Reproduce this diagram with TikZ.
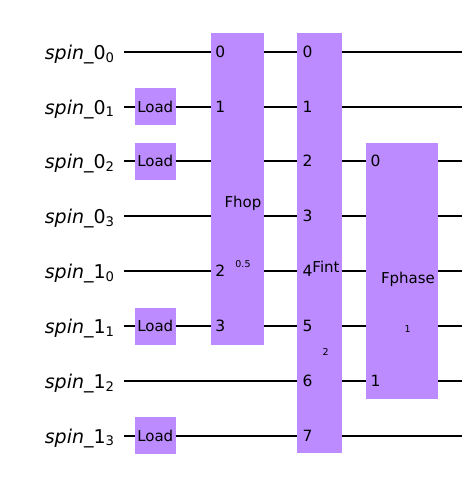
\documentclass[tikz,border=0pt]{standalone}
\usepackage{fontspec}
\setmainfont{DejaVu Sans}
\usepackage{tikz}
\usetikzlibrary{positioning}
\definecolor{gatepurple}{HTML}{BB8BFF}
\newcommand{\spinname}[2]{{\itshape spin\_}#1\raisebox{-2.8pt}{\fontsize{13.2}{14}\selectfont #2}}

\begin{document}
\begin{tikzpicture}[
    x=1pt, y=-1pt,
    spinlabel/.style={inner sep=0pt, yshift=-2.4pt, font=\fontsize{19}{22}\selectfont},
    gatebox/.style={rectangle, inner sep=0pt, fill=gatepurple},
    loadbox/.style={gatebox, minimum width=40.5pt, minimum height=37pt, font=\fontsize{15}{17}\selectfont},
    pinlabel/.style={inner sep=0pt, font=\fontsize{15.5}{17}\selectfont},
    gatename/.style={inner sep=0pt, anchor=base, font=\fontsize{15}{17}\selectfont},
    gateparam/.style={inner sep=0pt, font=\fontsize{9.5}{10}\selectfont},
    wire/.style={line width=2.2pt, black}
]
\useasboundingbox (0,0) rectangle (474,477);

% wire ends
\coordinate (w0in) at (124.3,52.3);
\coordinate (w1in) at (124.3,106.8);
\coordinate (w2in) at (124.3,161.3);
\coordinate (w3in) at (124.3,216.3);
\coordinate (w4in) at (124.3,271.3);
\coordinate (w5in) at (124.3,326.3);
\coordinate (w6in) at (124.3,381.3);
\coordinate (w7in) at (124.3,435.8);
\coordinate (w0out) at (462,52.3);
\coordinate (w1out) at (462,106.8);
\coordinate (w2out) at (462,161.3);
\coordinate (w3out) at (462,216.3);
\coordinate (w4out) at (462,271.3);
\coordinate (w5out) at (462,326.3);
\coordinate (w6out) at (462,381.3);
\coordinate (w7out) at (462,435.8);

% spin labels
\node (spin0) [spinlabel, left=10pt of w0in] {\spinname{0}{0}};
\node (spin1) [spinlabel, left=10pt of w1in] {\spinname{0}{1}};
\node (spin2) [spinlabel, left=10pt of w2in] {\spinname{0}{2}};
\node (spin3) [spinlabel, left=10pt of w3in] {\spinname{0}{3}};
\node (spin4) [spinlabel, left=10pt of w4in] {\spinname{1}{0}};
\node (spin5) [spinlabel, left=10pt of w5in] {\spinname{1}{1}};
\node (spin6) [spinlabel, left=10pt of w6in] {\spinname{1}{2}};
\node (spin7) [spinlabel, left=10pt of w7in] {\spinname{1}{3}};

% load gates
\node (load1) [loadbox] at (155.25,106.8) {Load};
\node (load2) [loadbox] at (155.25,161.3) {Load};
\node (load5) [loadbox] at (155.25,326.3) {Load};
\node (load7) [loadbox] at (155.25,435.8) {Load};

% big gates
\node (fhop) [gatebox, minimum width=53.3pt, minimum height=311.4pt] at (237.35,189) {};
\node (fint) [gatebox, minimum width=44.4pt, minimum height=420pt] at (319.5,243.3) {};
\node (fphase) [gatebox, minimum width=72pt, minimum height=256.3pt] at (402,271.15) {};

% gate names and parameters
\node (fhopname) [gatename] at (243,207) {Fhop};
\node (fhopparam) [gateparam] at (243,264) {0.5};
\node (fintname) [gatename] at (326,272.7) {Fint};
\node (fintparam) [gateparam] at (325.7,352) {2};
\node (fphasename) [gatename] at (408,283.7) {Fphase};
\node (fphaseparam) [gateparam] at (407.7,329) {1};

% pins of Fhop
\node (hop0) [pinlabel] at (220.3,52) {0};
\node (hop1) [pinlabel] at (220.3,106.7) {1};
\node (hop2) [pinlabel] at (220.3,271) {2};
\node (hop3) [pinlabel] at (220.3,326) {3};

% pins of Fint
\node (int0) [pinlabel] at (307.5,52) {0};
\node (int1) [pinlabel] at (307.5,106.7) {1};
\node (int2) [pinlabel] at (307.5,161) {2};
\node (int3) [pinlabel] at (307.5,216) {3};
\node (int4) [pinlabel] at (307.5,271) {4};
\node (int5) [pinlabel] at (307.5,326) {5};
\node (int6) [pinlabel] at (307.5,381) {6};
\node (int7) [pinlabel] at (307.5,435.5) {7};

% pins of Fphase
\node (phase0) [pinlabel] at (375.5,161) {0};
\node (phase1) [pinlabel] at (375.5,381) {1};

% wires
\draw [wire] (w0in) -- (fhop.west |- w0in) (fhop.east |- w0in) -- (fint.west |- w0in) (fint.east |- w0in) -- (w0out);
\draw [wire] (w1in) -- (load1) (load1) -- (fhop.west |- w1in) (fhop.east |- w1in) -- (fint.west |- w1in) (fint.east |- w1in) -- (w1out);
\draw [wire] (w2in) -- (load2) (load2) -- (fhop.west |- w2in) (fhop.east |- w2in) -- (fint.west |- w2in) (fint.east |- w2in) -- (fphase.west |- w2in) (fphase.east |- w2in) -- (w2out);
\draw [wire] (w3in) -- (fhop.west |- w3in) (fhop.east |- w3in) -- (fint.west |- w3in) (fint.east |- w3in) -- (fphase.west |- w3in) (fphase.east |- w3in) -- (w3out);
\draw [wire] (w4in) -- (fhop.west |- w4in) (fhop.east |- w4in) -- (fint.west |- w4in) (fint.east |- w4in) -- (fphase.west |- w4in) (fphase.east |- w4in) -- (w4out);
\draw [wire] (w5in) -- (load5) (load5) -- (fhop.west |- w5in) (fhop.east |- w5in) -- (fint.west |- w5in) (fint.east |- w5in) -- (fphase.west |- w5in) (fphase.east |- w5in) -- (w5out);
\draw [wire] (w6in) -- (fint.west |- w6in) (fint.east |- w6in) -- (fphase.west |- w6in) (fphase.east |- w6in) -- (w6out);
\draw [wire] (w7in) -- (load7) (load7) -- (fint.west |- w7in) (fint.east |- w7in) -- (w7out);

\end{tikzpicture}
\end{document}
